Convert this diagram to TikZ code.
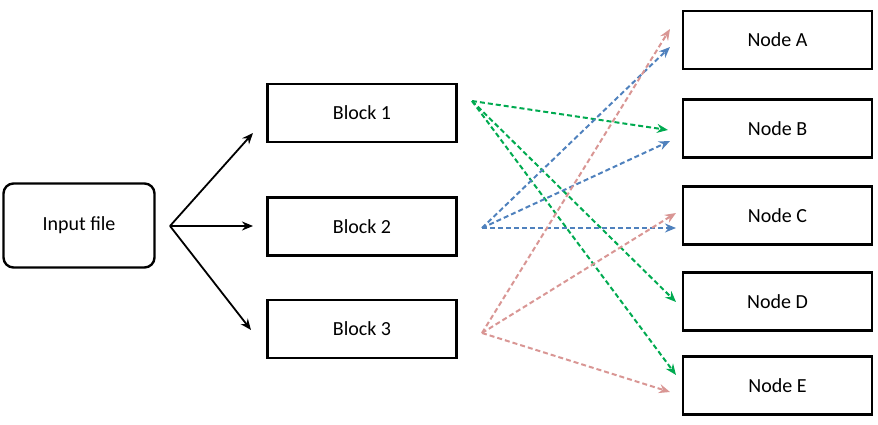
\documentclass[tikz,border=0pt]{standalone}
\usepackage{fontspec}
\setmainfont{Carlito}
\usetikzlibrary{arrows.meta}
\definecolor{cg}{RGB}{0,170,80}
\definecolor{cb}{RGB}{79,129,189}
\definecolor{cp}{RGB}{217,150,148}
\begin{document}
\begin{tikzpicture}[x=1pt,y=-1pt,
 box/.style={draw,line width=2.4pt,minimum width=189pt,minimum height=58pt,inner sep=0pt,font=\fontsize{20}{24}\selectfont},
 solid arr/.style={line width=1.8pt,-{Stealth[length=11pt,width=9pt]}},
 dash arr/.style={line width=2pt,dash pattern=on 5pt off 3pt,-{Stealth[length=11pt,width=9pt]}}]
\useasboundingbox (0,0) rectangle (878,425);
\node[box,rounded corners=10pt,minimum width=151pt,minimum height=84pt] (in) at (79,225.5) {Input file};
\node[box] (b1) at (362,113) {Block 1};
\node[box] (b2) at (362,226.5) {Block 2};
\node[box] (b3) at (362,329) {Block 3};
\node[box] (na) at (777.5,40) {Node A};
\node[box] (nb) at (777.5,128.5) {Node B};
\node[box] (nc) at (777.5,215.5) {Node C};
\node[box] (nd) at (777.5,301.5) {Node D};
\node[box] (ne) at (777.5,385.5) {Node E};
\coordinate (s) at (170,226);
\draw[solid arr] (s) -- (253,133);
\draw[solid arr] (s) -- (253,226);
\draw[solid arr] (s) -- (251,330);
\coordinate (g) at (472,101);
\coordinate (bl) at (482,228);
\coordinate (p) at (482,333);
\draw[dash arr,cg] (g) -- (668,130);
\draw[dash arr,cg] (g) -- (676,302);
\draw[dash arr,cg] (g) -- (676,375);
\draw[dash arr,cb] (bl) -- (670,47);
\draw[dash arr,cb] (bl) -- (670,141);
\draw[dash arr,cb] (bl) -- (676,228);
\draw[dash arr,cp] (p) -- (670,29);
\draw[dash arr,cp] (p) -- (676,213);
\draw[dash arr,cp] (p) -- (670,392);
\end{tikzpicture}
\end{document}
